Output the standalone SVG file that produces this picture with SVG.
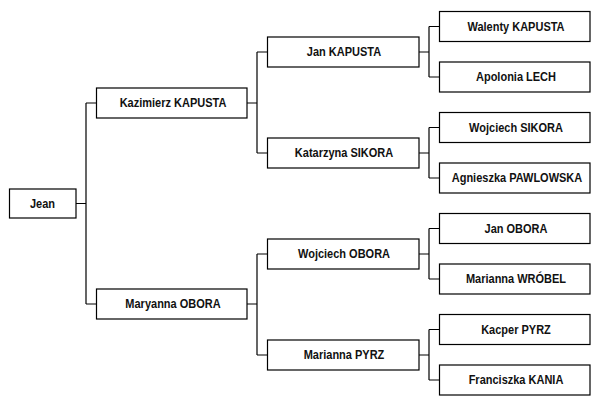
<svg xmlns="http://www.w3.org/2000/svg" width="596" height="404" viewBox="0 0 596 404">
<style>
rect.b{fill:#fff;stroke:#000;stroke-width:1.2}
text{font-family:"Liberation Sans",Arial,sans-serif;font-weight:bold;font-size:12.5px;fill:#111;text-anchor:middle;dominant-baseline:central}
#connectors path{fill:none;stroke:#000;stroke-width:1.2}
</style>
<rect width="596" height="404" fill="#fff"/>
<g id="connectors">
<path d="M76 203.5H86M86 103V304M86 103H96M86 304H96"/>
<path d="M247 103H257M257 52V153M257 52H267M257 153H267"/>
<path d="M247 304H257M257 254V355M257 254H267M257 355H267"/>
<path d="M419 52H429M429 26.5V77M429 26.5H439M429 77H439"/>
<path d="M419 153H429M429 127.5V178M429 127.5H439M429 178H439"/>
<path d="M419 254H429M429 228.5V279M429 228.5H439M429 279H439"/>
<path d="M419 355H429M429 329.5V380M429 329.5H439M429 380H439"/>
</g>
<g id="jean"><rect class="b" x="9.5" y="189" width="66.5" height="29"/><text transform="translate(42.5 203) scale(0.88 1)">Jean</text></g>
<g id="kazimierz"><rect class="b" x="96.5" y="88" width="150.5" height="30"/><text transform="translate(173 102.5) scale(0.88 1)">Kazimierz KAPUSTA</text></g>
<g id="maryanna"><rect class="b" x="96.5" y="289" width="150.5" height="30"/><text transform="translate(173 303.5) scale(0.88 1)">Maryanna OBORA</text></g>
<g id="jan-kapusta"><rect class="b" x="267.5" y="37" width="151.5" height="30"/><text transform="translate(344 51.5) scale(0.88 1)">Jan KAPUSTA</text></g>
<g id="katarzyna"><rect class="b" x="267.5" y="138" width="151.5" height="30"/><text transform="translate(344 152.5) scale(0.88 1)">Katarzyna SIKORA</text></g>
<g id="wojciech-obora"><rect class="b" x="267.5" y="239" width="151.5" height="30"/><text transform="translate(344 253.5) scale(0.88 1)">Wojciech OBORA</text></g>
<g id="marianna-pyrz"><rect class="b" x="267.5" y="340" width="151.5" height="30"/><text transform="translate(344 354.5) scale(0.88 1)">Marianna PYRZ</text></g>
<g id="walenty"><rect class="b" x="439.5" y="11.5" width="150.5" height="30"/><text transform="translate(516 26) scale(0.88 1)">Walenty KAPUSTA</text></g>
<g id="apolonia"><rect class="b" x="439.5" y="62" width="150.5" height="30"/><text transform="translate(516 76.5) scale(0.88 1)">Apolonia LECH</text></g>
<g id="wojciech-sikora"><rect class="b" x="439.5" y="112.5" width="150.5" height="30"/><text transform="translate(516 127) scale(0.88 1)">Wojciech SIKORA</text></g>
<g id="agnieszka"><rect class="b" x="439.5" y="163" width="150.5" height="30"/><text transform="translate(517 177.5) scale(0.88 1)">Agnieszka PAWLOWSKA</text></g>
<g id="jan-obora"><rect class="b" x="439.5" y="213.5" width="150.5" height="30"/><text transform="translate(516 228) scale(0.88 1)">Jan OBORA</text></g>
<g id="marianna-wrobel"><rect class="b" x="439.5" y="264" width="150.5" height="30"/><text transform="translate(516 278.5) scale(0.88 1)">Marianna WRÓBEL</text></g>
<g id="kacper"><rect class="b" x="439.5" y="314.5" width="150.5" height="30"/><text transform="translate(516 329) scale(0.88 1)">Kacper PYRZ</text></g>
<g id="franciszka"><rect class="b" x="439.5" y="365" width="150.5" height="30"/><text transform="translate(516 379.5) scale(0.88 1)">Franciszka KANIA</text></g>
</svg>
